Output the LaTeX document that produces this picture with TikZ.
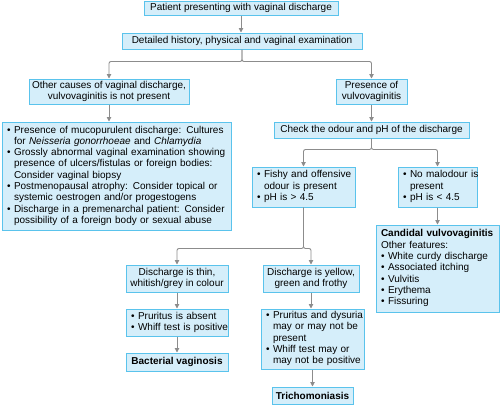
\documentclass[tikz,border=0pt]{standalone}
\usepackage{fontspec}
\setmainfont{Liberation Sans}
\usetikzlibrary{arrows.meta,calc}
\definecolor{boxfill}{HTML}{D5EEFA}
\definecolor{boxline}{HTML}{5AC3EC}
\definecolor{connc}{HTML}{8C8C8C}
\tikzset{
 box/.style={draw=boxline, fill=boxfill, line width=1pt, inner sep=0pt, font=\fontsize{10}{11.3}\selectfont, align=center},
 lbox/.style={box, align=left, inner xsep=5pt},
 conn/.style={draw=connc, line width=0.9pt, rounded corners=2pt, -{Triangle[width=4.5pt,length=4.5pt]}}
}
\newcommand{\bl}{\textbullet}
\newenvironment{blist}{\begin{tabular}{@{}l@{\hspace{3.5pt}}l@{}}}{\end{tabular}}
\begin{document}
\begin{tikzpicture}[x=1pt,y=-1pt]
\useasboundingbox (0,0) rectangle (500,405);
\node[box, minimum width=194pt, minimum height=14pt] (top) at (241,8) {Patient presenting with vaginal discharge};
\node[box, minimum width=240pt, minimum height=16pt] (hist) at (242,41) {Detailed history, physical and vaginal examination};
\node[box, minimum width=160pt, minimum height=25pt] (other) at (109,91.5) {Other causes of vaginal discharge,\\ vulvovaginitis is not present};
\node[box, minimum width=71pt, minimum height=25pt] (pres) at (371.5,91.5) {Presence of\\ vulvovaginitis};
\node[lbox, text width=219pt, minimum height=108pt] (big) at (116.5,176) {\begin{blist}
\bl & Presence of mucopurulent discharge: Cultures\\
 & for \textit{Neisseria gonorrhoeae} and \textit{Chlamydia}\\
\bl & Grossly abnormal vaginal examination showing\\
 & presence of ulcers/fistulas or foreign bodies:\\
 & Consider vaginal biopsy\\
\bl & Postmenopausal atrophy: Consider topical or\\
 & systemic oestrogen and/or progestogens\\
\bl & Discharge in a premenarchal patient: Consider\\
 & possibility of a foreign body or sexual abuse
\end{blist}};
\node[box, minimum width=195pt, minimum height=16pt] (check) at (371.5,130) {Check the odour and pH of the discharge};
\node[lbox, text width=93pt, minimum height=40pt] (fishy) at (303.5,187) {\begin{blist}
\bl & Fishy and offensive\\
 & odour is present\\
\bl & pH is > 4.5
\end{blist}};
\node[lbox, text width=69pt, minimum height=40pt] (nomal) at (437.5,187) {\begin{blist}
\bl & No malodour is\\
 & present\\
\bl & pH is < 4.5
\end{blist}};
\node[lbox, text width=113pt, minimum height=87pt] (cand) at (437.5,268.5) {\begin{blist}
\multicolumn{2}{@{}l@{}}{\textbf{Candidal vulvovaginitis}}\\
\multicolumn{2}{@{}l@{}}{Other features:}\\
\bl & White curdy discharge\\
\bl & Associated itching\\
\bl & Vulvitis\\
\bl & Erythema\\
\bl & Fissuring
\end{blist}};
\node[box, minimum width=102pt, minimum height=27pt] (thin) at (177,278.5) {Discharge is thin,\\ whitish/grey in colour};
\node[box, minimum width=96pt, minimum height=27pt] (yellow) at (311,278.5) {Discharge is yellow,\\ green and frothy};
\node[lbox, text width=92pt, minimum height=27pt] (prur1) at (177,322.5) {\begin{blist}
\bl & Pruritus is absent\\
\bl & Whiff test is positive
\end{blist}};
\node[lbox, text width=93pt, minimum height=60pt] (prur2) at (312.5,339) {\begin{blist}
\bl & Pruritus and dysuria\\
 & may or may not be\\
 & present\\
\bl & Whiff test may or\\
 & may not be positive
\end{blist}};
\node[box, minimum width=102pt, minimum height=18pt, font=\fontsize{10}{11.3}\selectfont\bfseries] (bact) at (177,362) {Bacterial vaginosis};
\node[box, minimum width=81pt, minimum height=17pt, font=\fontsize{10}{11.3}\selectfont\bfseries] (trich) at (312.5,395.5) {Trichomoniasis};
\draw[conn] (top.south) -- (top.south |- hist.north);
\draw[conn] (hist.south) -- ++(0,12) -| (other.north);
\draw[conn] (hist.south) -- ++(0,12) -| (pres.north);
\draw[conn] (other.south) -- (other.south |- big.north);
\draw[conn] (pres.south) -- (check.north);
\draw[conn] (check.south) -- ++(0,11) -| (fishy.north);
\draw[conn] (check.south) -- ++(0,11) -| (nomal.north);
\draw[conn] (nomal.south) -- (cand.north);
\draw[conn] (fishy.south) -- ++(0,41) -| (thin.north);
\draw[conn] (fishy.south) -- ++(0,41) -| (yellow.north);
\draw[conn] (thin) -- (prur1);
\draw[conn] (prur1) -- (bact);
\draw[conn] (yellow.south) -- (yellow.south |- prur2.north);
\draw[conn] (prur2.south) -- (prur2.south |- trich.north);
\end{tikzpicture}
\end{document}
